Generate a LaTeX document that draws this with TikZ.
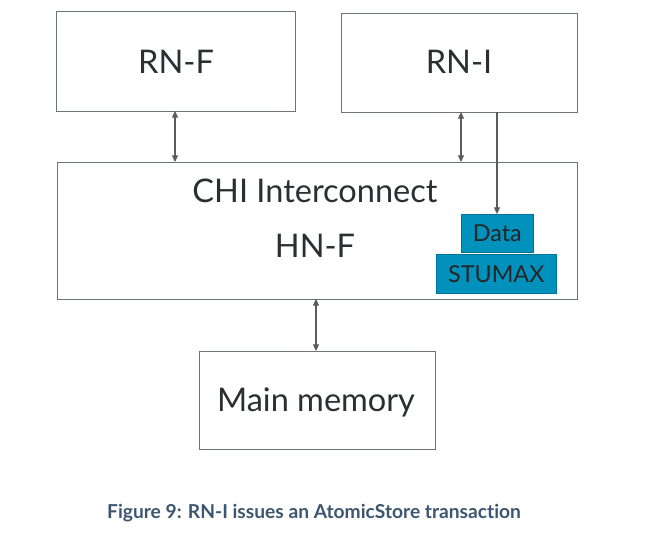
\documentclass[tikz,border=0pt]{standalone}
\usepackage{fontspec}
\setmainfont{Lato}[Ligatures={NoCommon}]
\usetikzlibrary{arrows.meta}
\definecolor{boxline}{HTML}{6E7378}
\definecolor{txt}{HTML}{2B2F33}
\definecolor{armblue}{HTML}{0091BD}
\definecolor{captxt}{HTML}{3D5670}
\begin{document}
\begin{tikzpicture}[x=0.75pt,y=-0.75pt,
  blk/.style={draw=boxline,line width=0.9pt,fill=white,inner sep=0pt},
  lbl/.style={text=txt,font=\fontsize{24.4}{28}\selectfont,inner sep=0pt},
  tag/.style={fill=armblue,draw=armblue!80!black,line width=0.4pt,inner sep=0pt,text=black!85,font=\fontsize{17.5}{20}\selectfont},
  link/.style={draw=boxline!80!black,line width=0.8pt},
  tip/.style={-{Triangle[length=5pt,width=4.5pt]}},
  tips/.style={{Triangle[length=5pt,width=4.5pt]}-{Triangle[length=5pt,width=4.5pt]}}]
\useasboundingbox (0,0) rectangle (663,549);
% boxes
\node[blk,minimum width=239*0.75pt,minimum height=100*0.75pt,anchor=north west] (rnf) at (56,11) {};
\node[blk,minimum width=236*0.75pt,minimum height=99*0.75pt,anchor=north west] (rni) at (341,13) {};
\node[blk,minimum width=520*0.75pt,minimum height=137*0.75pt,anchor=north west] (hnf) at (57,162) {};
\node[blk,minimum width=236*0.75pt,minimum height=98*0.75pt,anchor=north west] (mem) at (199,351) {};
% labels
\node[lbl] (tf) at (176,62) {RN-F};
\node[lbl] (ti) at (459,62) {RN-I};
\node[lbl] (tchi) at (315,191) {CHI Interconnect};
\node[lbl] (thn) at (315,246) {HN-F};
\node[lbl] (tm) at (316,402) {Main memory};
% tags
\node[tag,minimum width=72*0.75pt,minimum height=38*0.75pt,anchor=north west] (data) at (461,214) {Data};
\node[tag,minimum width=120*0.75pt,minimum height=39*0.75pt,anchor=north west] (stu) at (436,254) {STUMAX};
% connectors
\coordinate (a1) at (175,111);
\coordinate (b1) at (175,162);
\draw[link,tips] (a1) -- (b1);
\coordinate (a2) at (461,112);
\coordinate (b2) at (461,162);
\draw[link,tips] (a2) -- (b2);
\coordinate (a3) at (316,299);
\coordinate (b3) at (316,351);
\draw[link,tips] (a3) -- (b3);
\coordinate (c) at (497,112);
\draw[link,tip] (c) -- (data.north -| c);
% caption
\node[text=captxt,font=\bfseries\fontsize{14.4}{17}\selectfont,inner sep=0pt] (cap) at (314,513) {Figure 9: RN-I issues an AtomicStore transaction};
\end{tikzpicture}
\end{document}
